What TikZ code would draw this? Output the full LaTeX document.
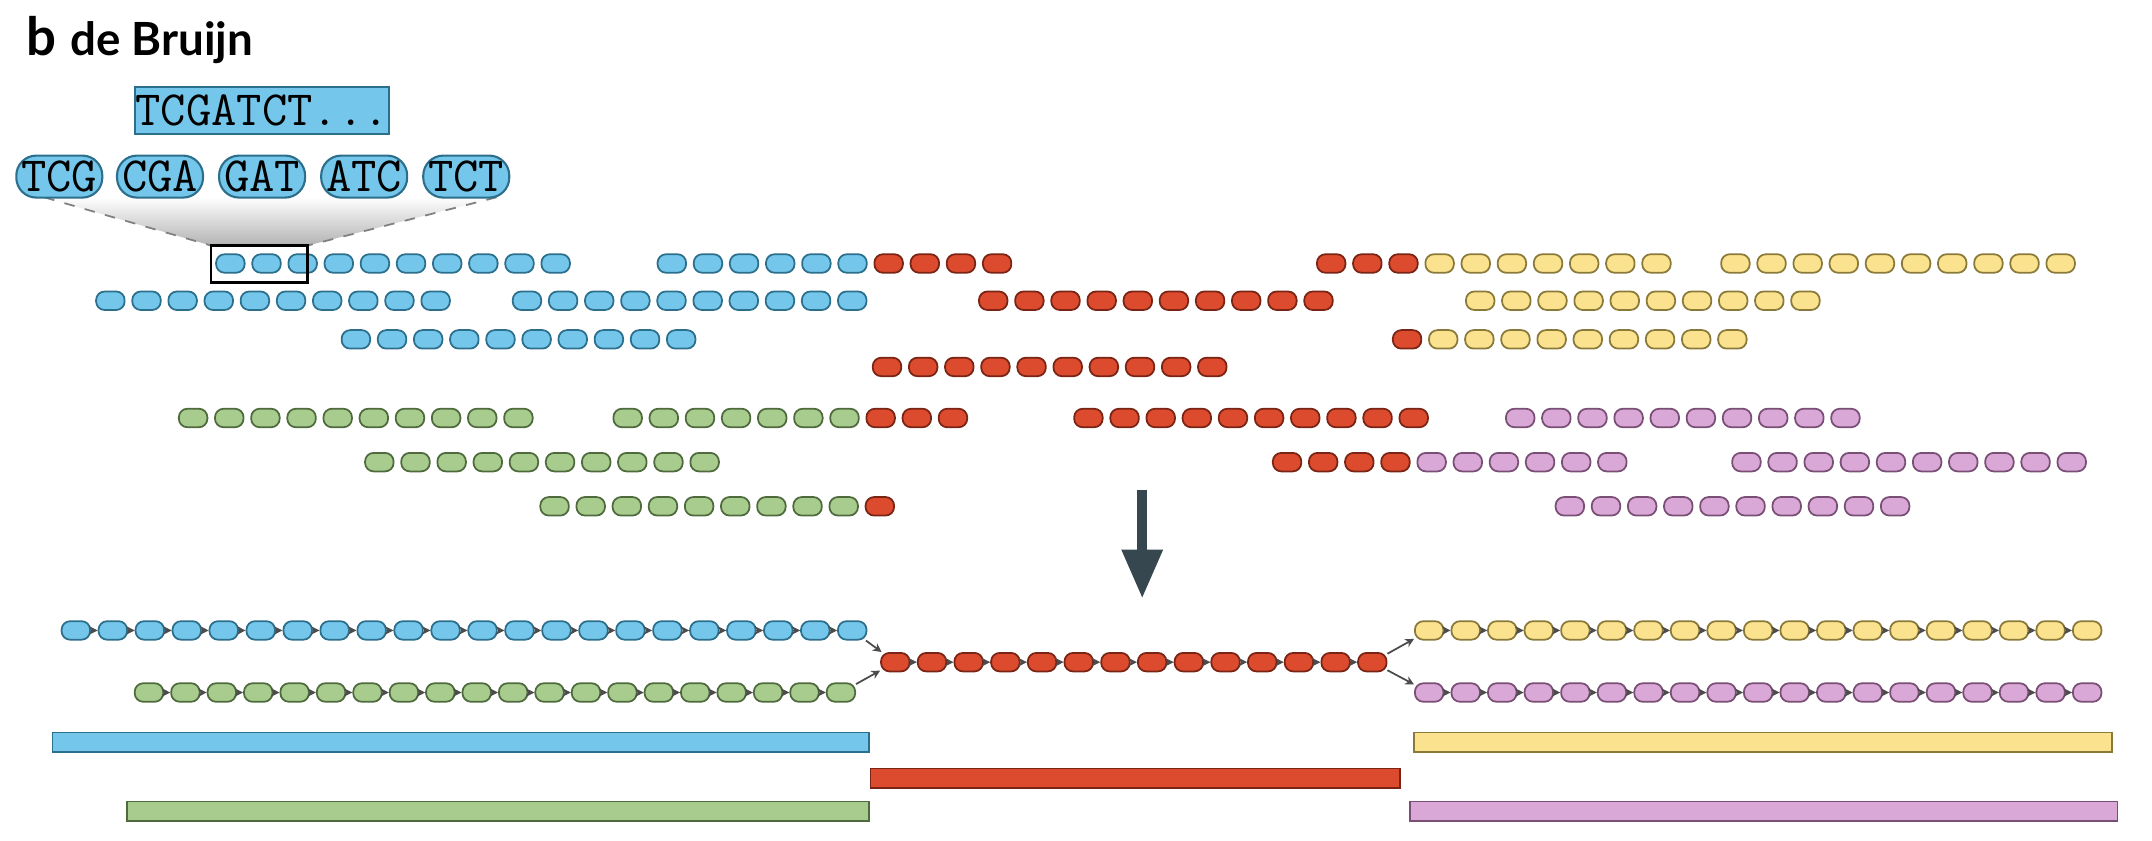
\documentclass[tikz,border=0pt]{standalone}
\usepackage{fontspec}
\setmainfont{Lato}
\usetikzlibrary{arrows.meta}
\definecolor{cB}{HTML}{74C7EA}\definecolor{dB}{HTML}{2C6F8C}
\definecolor{cR}{HTML}{DC4B2E}\definecolor{dR}{HTML}{7A2415}
\definecolor{cY}{HTML}{FBE28E}\definecolor{dY}{HTML}{8A7A3A}
\definecolor{cG}{HTML}{A8CC8E}\definecolor{dG}{HTML}{4F6B3E}
\definecolor{cP}{HTML}{DAA8D6}\definecolor{dP}{HTML}{7A4F76}
\definecolor{arr}{HTML}{37474F}
\tikzset{
 bead/.style={rectangle,rounded corners=0.085cm,minimum width=0.285cm,minimum height=0.185cm,inner sep=0pt,line width=0.5pt,fill=c#1,draw=d#1},
 kmer/.style={rectangle,rounded corners=0.2cm,minimum width=0.86cm,minimum height=0.42cm,inner sep=0pt,fill=cB,draw=dB,line width=0.6pt,font=\ttfamily\fontsize{14}{16}\selectfont},
 bar/.style={line width=0.5pt,fill=c#1,draw=d#1},
 link/.style={-{Stealth[length=2.5pt,width=2.5pt]},line width=0.5pt,draw=black!70}
}
\newcommand\beads[5]{\foreach \i in {1,...,#4}{\node[bead=#1] (#5\i) at ({#2+10+(\i-1)*26.2},#3) {};}}
\newcommand\chain[6]{\foreach \i in {1,...,#4}{\node[bead=#1] (#5\i) at ({#2+10+(\i-1)*#6},#3) {};}
 \foreach \i [evaluate=\i as \j using int(\i-1)] in {2,...,#4}{\draw[link] (#5\j) -- (#5\i);}}
\begin{document}
\begin{tikzpicture}[x=0.013795cm,y=-0.013795cm]
\useasboundingbox (0,0) rectangle (1560,609.6);
\node[anchor=base west,font=\bfseries\fontsize{15}{16}\selectfont] (tb) at (10,40) {b};
\node[anchor=base west,font=\bfseries\fontsize{13}{16}\selectfont] (tt) at (42,40) {de Bruijn};
\node[rectangle,fill=cB,draw=dB,line width=0.6pt,minimum width=2.14cm,minimum height=0.47cm,inner sep=0pt,font=\ttfamily\fontsize{14}{16}\selectfont] (seq) at (190,80) {TCGATCT...};
% zoom wedge
\coordinate (w1) at (32,143); \coordinate (w2) at (360,143);
\coordinate (b1) at (153,178); \coordinate (b2) at (223,178);
\shade[top color=white,bottom color=black!30] (w1) -- (w2) -- (b2) -- (b1) -- cycle;
\draw[dashed,black!50,line width=0.5pt] (w1) -- (b1) (w2) -- (b2);
\node[kmer] (k1) at (43,128) {TCG};
\node[kmer] (k2) at (116,128) {CGA};
\node[kmer] (k3) at (190,128) {GAT};
\node[kmer] (k4) at (264,128) {ATC};
\node[kmer] (k5) at (338,128) {TCT};
% reads
\beads{B}{157}{191}{10}{ra}
\beads{B}{477}{191}{6}{rb}\beads{R}{634.2}{191}{4}{rc}
\beads{R}{955}{191}{3}{rd}\beads{Y}{1033.6}{191}{7}{re}
\beads{Y}{1248}{191}{10}{rf}
\beads{B}{70}{218}{10}{rg}\beads{B}{372}{218}{10}{rh}
\beads{R}{710}{218}{10}{ri}\beads{Y}{1063}{218}{10}{rj}
\beads{B}{248}{246}{10}{rk}
\beads{R}{1010}{246}{1}{rl}\beads{Y}{1036.2}{246}{9}{rm}
\beads{R}{633}{266}{10}{rn}
\beads{G}{130}{303}{10}{ro}
\beads{G}{445}{303}{7}{rp}\beads{R}{628.4}{303}{3}{rq}
\beads{R}{779}{303}{10}{rr}\beads{P}{1092}{303}{10}{rs}
\beads{G}{265}{335}{10}{rt}
\beads{R}{923}{335}{4}{ru}\beads{P}{1027.8}{335}{6}{rv}
\beads{P}{1256}{335}{10}{rw}
\beads{G}{392}{367}{9}{rx}\beads{R}{627.8}{367}{1}{ry}
\beads{P}{1128}{367}{10}{rz}
\draw[black,line width=0.8pt] (b1) rectangle (223,205);
% arrow
\coordinate (a1) at (828,355); \coordinate (a2) at (828,434);
\draw[-{Triangle[length=14pt,width=11pt]},line width=3pt,draw=arr] (a1) -- (a2);
% graph
\chain{B}{45}{457}{22}{cb}{26.8}
\chain{G}{98}{502}{20}{cg}{26.4}
\chain{R}{639}{480}{14}{cr}{26.6}
\chain{Y}{1026}{457}{19}{cy}{26.5}
\chain{P}{1026}{502}{19}{cp}{26.5}
\draw[link] (cb22) -- (cr1);
\draw[link] (cg20) -- (cr1);
\draw[link] (cr14) -- (cy1);
\draw[link] (cr14) -- (cp1);
% contigs
\draw[bar=B] (38,531) rectangle (630,545);
\draw[bar=R] (631,557) rectangle (1015,571);
\draw[bar=G] (92,581) rectangle (630,595);
\draw[bar=Y] (1025,531) rectangle (1531,545);
\draw[bar=P] (1022,581) rectangle (1535,595);
\end{tikzpicture}
\end{document}
